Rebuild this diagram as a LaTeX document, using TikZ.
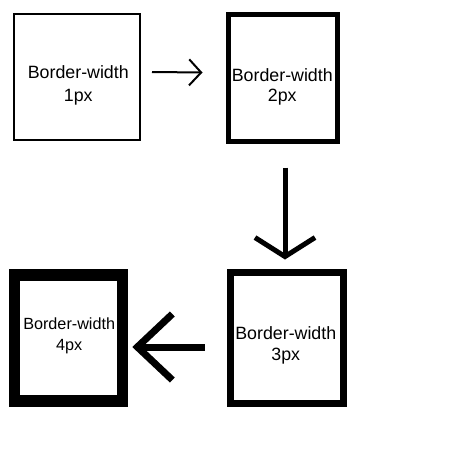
\documentclass[tikz,border=0pt]{standalone}
\usepackage{fontspec}
\setmainfont{Liberation Sans}
\usetikzlibrary{arrows.meta,calc}
\tikzset{
  box/.style={draw=black, rectangle, inner sep=0pt},
  lbl/.style={align=center, inner sep=0pt},
}
\begin{document}
\begin{tikzpicture}[x=1pt,y=-1pt]
\useasboundingbox[fill=white] (0,0) rectangle (450,450);
% boxes
\node[box, line width=2pt, minimum width=126pt, minimum height=126pt] (b1) at (77,77) {};
\node[box, line width=5pt, minimum width=109.5pt, minimum height=127pt] (b2) at (282.75,77.5) {};
\node[box, line width=7pt, minimum width=113pt, minimum height=131pt] (b3) at (286.5,337.5) {};
\node[box, line width=11.5pt, minimum width=108pt, minimum height=126pt] (b4) at (68.5,338) {};
% labels
\node[lbl, font=\fontsize{17.8}{23.5}\selectfont] (t1) at (78.3,85.5) {Border-width\\1px};
\node[lbl, font=\fontsize{17.8}{20}\selectfont] (t2) at (282.3,87) {Border-width\\2px};
\node[lbl, font=\fontsize{17.8}{21.4}\selectfont] (t3) at (285.8,345.4) {Border-width\\3px};
\node[lbl, font=\fontsize{16.2}{21}\selectfont] (t4) at (69.2,336.3) {Border-width\\4px};
% arrows
\draw[line width=2pt, -{Straight Barb[length=12pt,width=26pt]}]
  ($(b1.east)+(11,-5)$) -- ($(b2.west)+(-23,-5)$);
\draw[line width=5pt, -{Straight Barb[length=19pt,width=60pt]}]
  ($(b2.south)+(2.25,24)$) -- ($(b3.north)+(-1.5,-9)$);
\draw[line width=7pt, -{Straight Barb[length=35pt,width=66pt]}]
  ($(b3.west)+(-22,9.5)$) -- ($(b4.east)+(4,9)$);
\end{tikzpicture}
\end{document}
